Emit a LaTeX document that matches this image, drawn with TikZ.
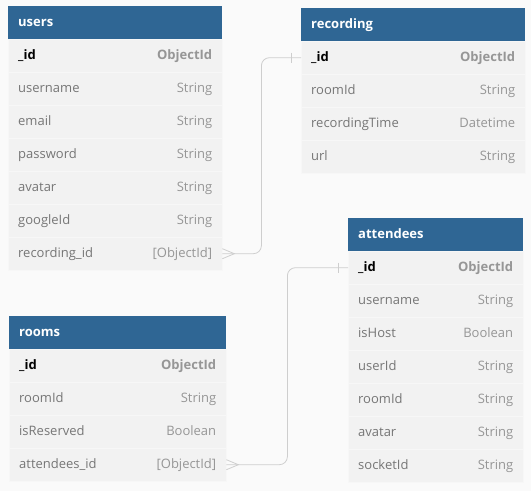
\documentclass[tikz,border=0pt]{standalone}
\usepackage{fontspec}
\setmainfont{Open Sans}
\usetikzlibrary{positioning}

\definecolor{hdrblue}{RGB}{47,102,148}
\definecolor{rowgray}{RGB}{242,242,242}
\definecolor{rowline}{RGB}{247,247,247}
\definecolor{fieldgray}{RGB}{118,118,118}
\definecolor{typegray}{RGB}{150,150,150}
\definecolor{linkgray}{RGB}{206,206,206}
\definecolor{bggray}{RGB}{250,250,250}

\tikzset{
  txt/.style={font=\fontsize{13}{15}\selectfont, text height=12pt, text depth=3.5pt},
  hdr/.style={txt, anchor=north west, fill=hdrblue, text=white,
    font=\fontsize{13}{15}\selectfont\bfseries, minimum height=33pt,
    inner xsep=10pt, inner ysep=0pt, text width=#1, align=left},
  row/.style={txt, anchor=north west, fill=rowgray, draw=rowline, text=fieldgray,
    minimum height=33pt, inner xsep=10pt, inner ysep=0pt, text width=#1, align=left},
  keyrow/.style={row=#1, text=black, font=\fontsize{13}{15}\selectfont\bfseries},
  typ/.style={txt, anchor=east, inner sep=0pt, text=typegray},
  keytyp/.style={typ, font=\fontsize{13}{15}\selectfont\bfseries},
  link/.style={draw=linkgray, line width=0.8pt},
}

\begin{document}
\begin{tikzpicture}[x=1pt,y=-1pt]
  \fill[bggray] (0,0) rectangle (531,491);

  % users
  \node[hdr=194pt] (users) at (8,6) {users};
  \node[keyrow=194pt] (users-1) at (8,39) {\_id};
  \node[keytyp, left=10pt of users-1.east] (users-1-t) {ObjectId};
  \foreach \fname/\ftype [count=\i from 2] in {username/String, email/String,
      password/String, avatar/String, googleId/String, recording\_id/{[ObjectId]}} {
    \node[row=194pt] (users-\i) at (8,{39+33*(\i-1)}) {\fname};
    \node[typ, left=10pt of users-\i.east] (users-\i-t) {\ftype};
  }

  % recording
  \node[hdr=204pt] (recording) at (301,8) {recording};
  \node[keyrow=204pt] (recording-1) at (301,41) {\_id};
  \node[keytyp, left=10pt of recording-1.east] (recording-1-t) {ObjectId};
  \foreach \fname/\ftype [count=\i from 2] in {roomId/String,
      recordingTime/Datetime, url/String} {
    \node[row=204pt] (recording-\i) at (301,{41+33*(\i-1)}) {\fname};
    \node[typ, left=10pt of recording-\i.east] (recording-\i-t) {\ftype};
  }

  % attendees
  \node[hdr=155pt] (attendees) at (348,218) {attendees};
  \node[keyrow=155pt] (attendees-1) at (348,251) {\_id};
  \node[keytyp, left=10pt of attendees-1.east] (attendees-1-t) {ObjectId};
  \foreach \fname/\ftype [count=\i from 2] in {username/String, isHost/Boolean,
      userId/String, roomId/String, avatar/String, socketId/String} {
    \node[row=155pt] (attendees-\i) at (348,{251+33*(\i-1)}) {\fname};
    \node[typ, left=10pt of attendees-\i.east] (attendees-\i-t) {\ftype};
  }

  % rooms
  \node[hdr=197pt] (rooms) at (9,316) {rooms};
  \node[keyrow=197pt] (rooms-1) at (9,349) {\_id};
  \node[keytyp, left=10pt of rooms-1.east] (rooms-1-t) {ObjectId};
  \foreach \fname/\ftype [count=\i from 2] in {roomId/String,
      isReserved/Boolean, attendees\_id/{[ObjectId]}} {
    \node[row=197pt] (rooms-\i) at (9,{349+33*(\i-1)}) {\fname};
    \node[typ, left=10pt of rooms-\i.east] (rooms-\i-t) {\ftype};
  }

  % links (many -> one)
  \draw[link, rounded corners=8pt] (users-7.east) -- ++(39,0) |- (recording-1.west);
  \draw[link] (users-7.east) ++(0,-5) -- ++(12,5) -- ++(-12,5);
  \draw[link] (recording-1.west) ++(-10,-5) -- ++(0,10);

  \draw[link, rounded corners=8pt] (rooms-4.east) -- ++(61,0) |- (attendees-1.west);
  \draw[link] (rooms-4.east) ++(0,-5) -- ++(12,5) -- ++(-12,5);
  \draw[link] (attendees-1.west) ++(-10,-5) -- ++(0,10);
\end{tikzpicture}
\end{document}
